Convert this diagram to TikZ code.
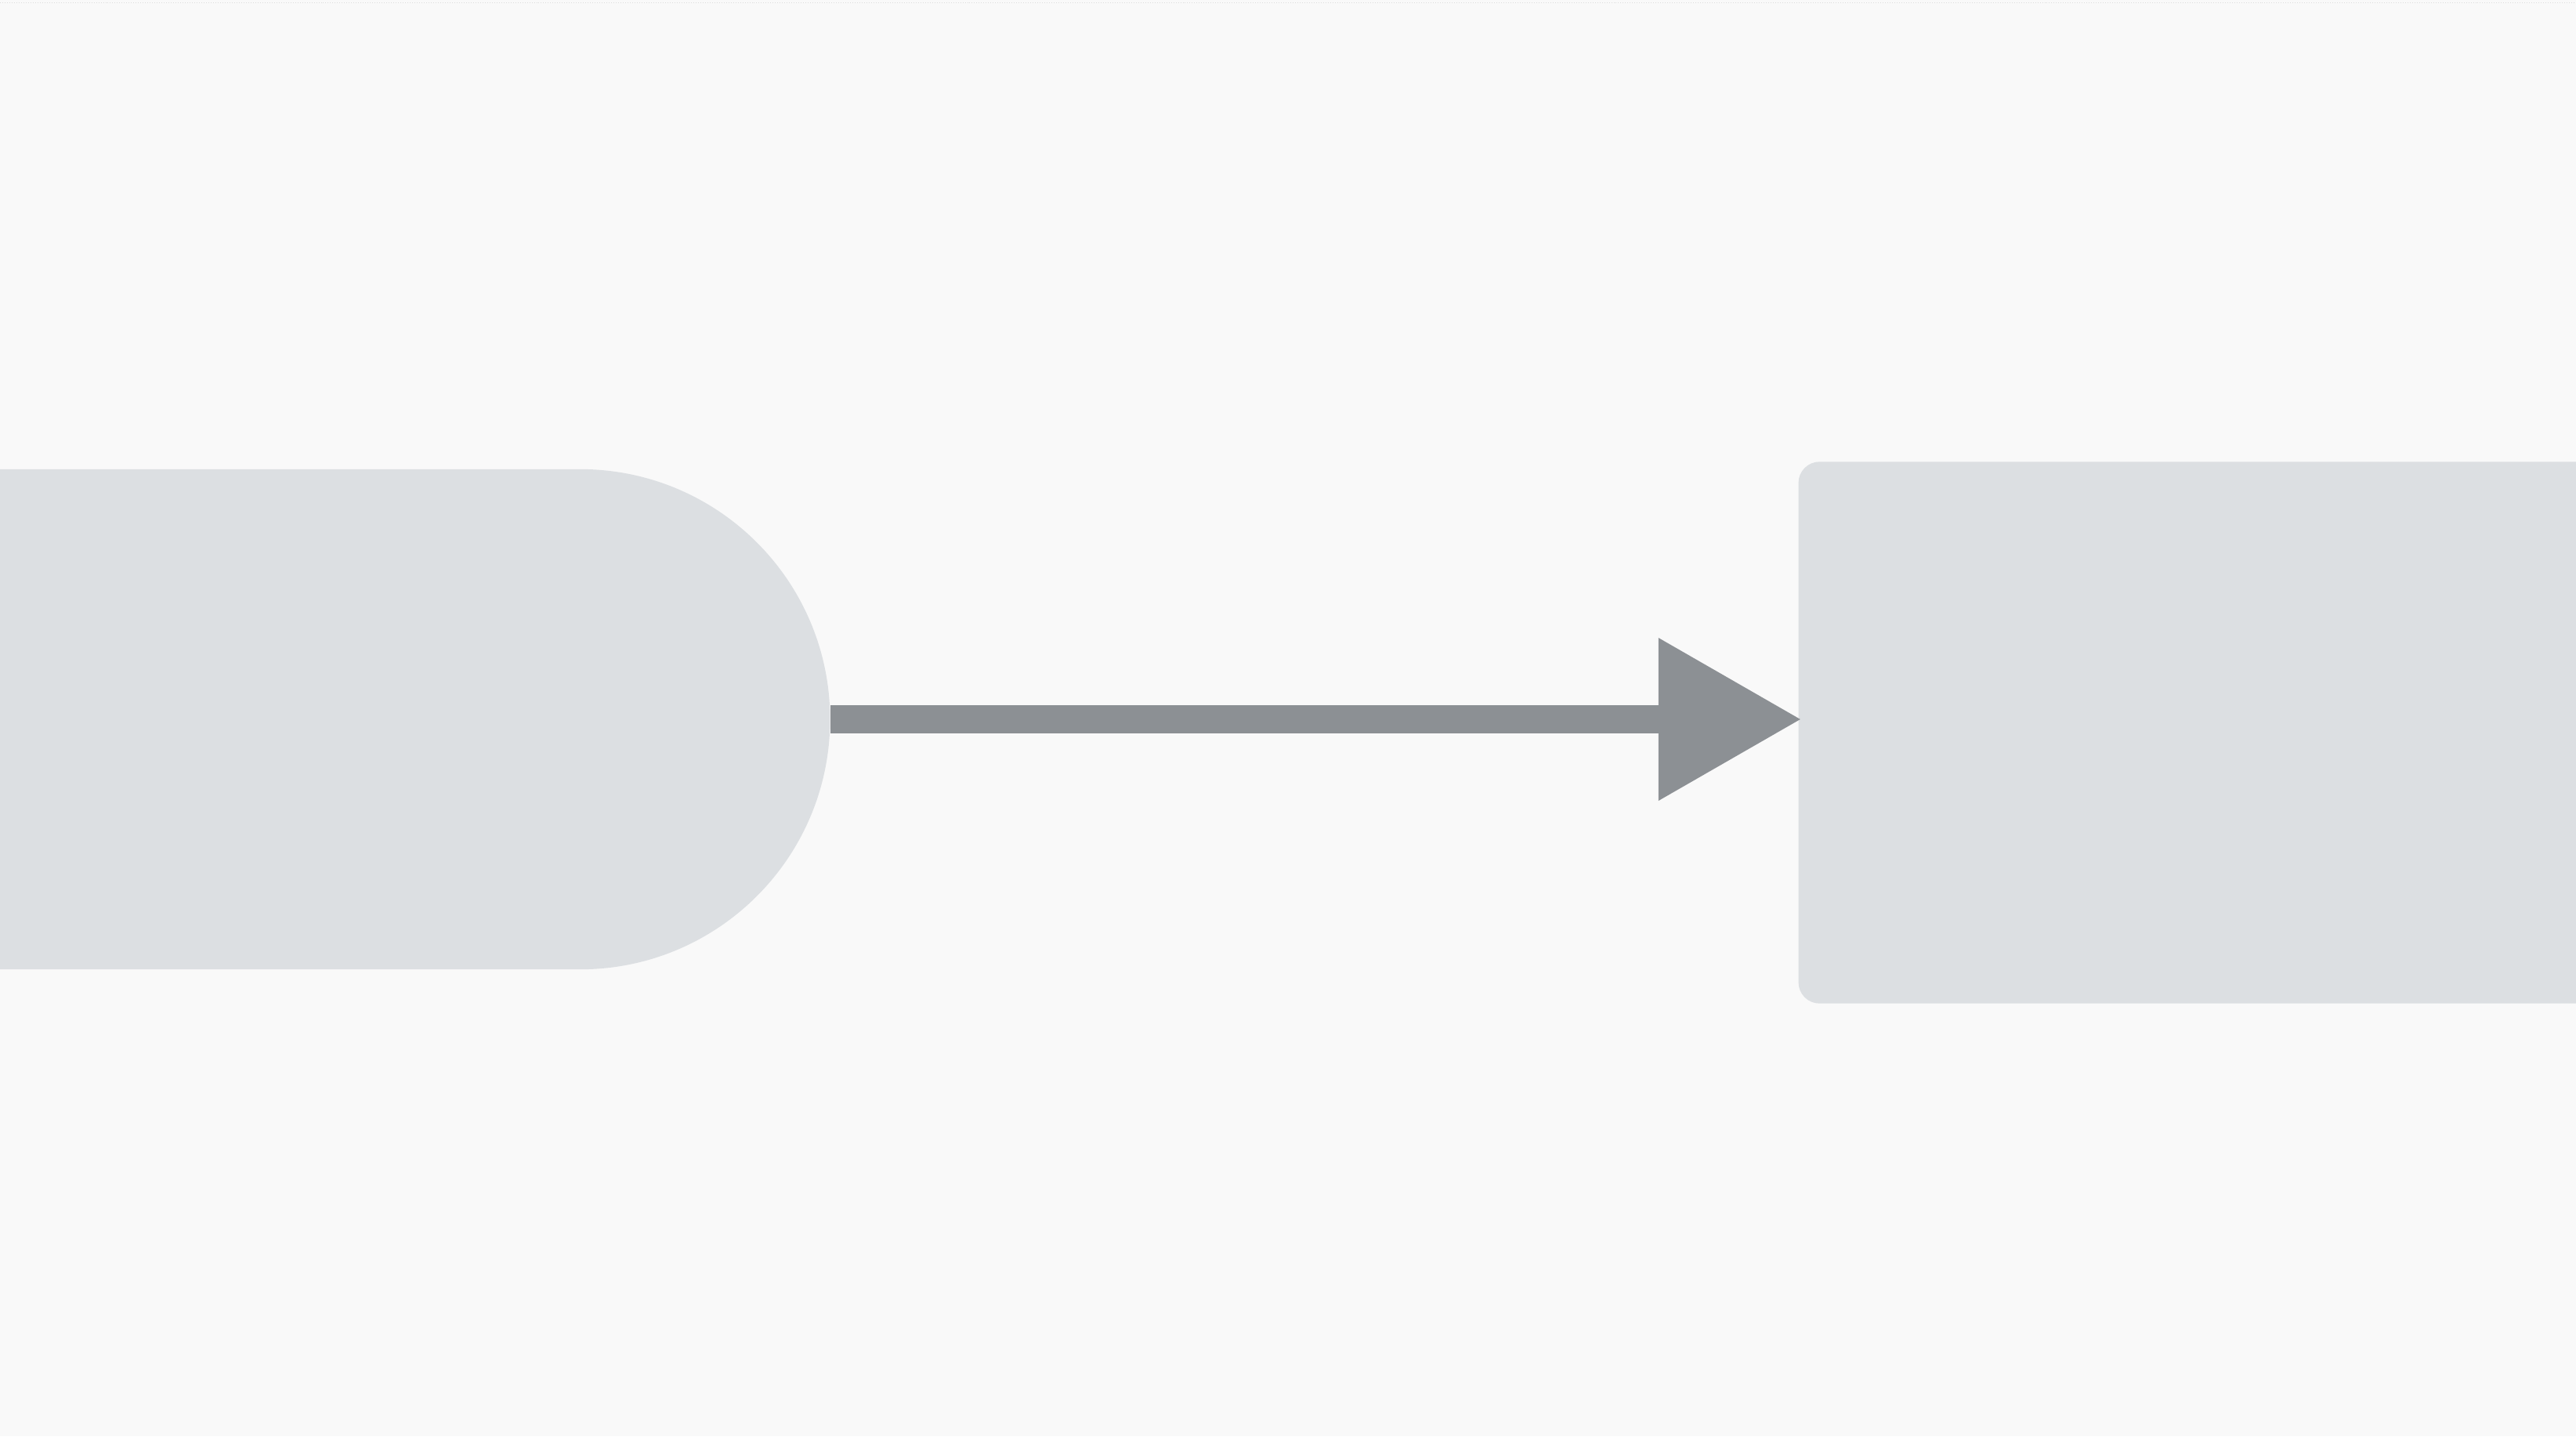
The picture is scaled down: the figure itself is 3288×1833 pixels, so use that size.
\documentclass[tikz,border=0pt]{standalone}
\usetikzlibrary{arrows.meta}
\definecolor{pagebg}{HTML}{F9F9F9}
\definecolor{blockgrey}{HTML}{DCDFE2}
\definecolor{arrowgrey}{HTML}{8C9094}
\definecolor{edgegrey}{HTML}{DCDCDC}
\begin{document}
\begin{tikzpicture}[x=0.01cm,y=-0.01cm,
  blockfill/.style={fill=blockgrey,draw=none,inner sep=0pt},
  startshape/.style={blockfill,minimum width=16.59cm,minimum height=6.38cm,rounded corners=3.19cm},
  procbox/.style={blockfill,minimum width=16.04cm,minimum height=6.91cm,rounded corners=0.27cm},
  flowarrow/.style={draw=arrowgrey,line width=0.366cm,shorten >=-0.03cm,-{Triangle[length=1.81cm,width=2.08cm,line width=0pt]}}]
%page and clip
\useasboundingbox (0,0) rectangle (3288,1833);
\fill[pagebg] (0,0) rectangle (3288,1833);
\clip (0,0) rectangle (3288,1833);
\draw[edgegrey,line width=0.01cm,dash pattern=on 0.28pt off 0.57pt] (0,3.3) -- (3288,3.3);
%blocks
\node[startshape] (start) at (229.5,918) {};
\node[procbox] (proc) at (3098,935) {};
%arrow
\draw[flowarrow] (start.east) -- (start.east -| proc.west);
\end{tikzpicture}
\end{document}
